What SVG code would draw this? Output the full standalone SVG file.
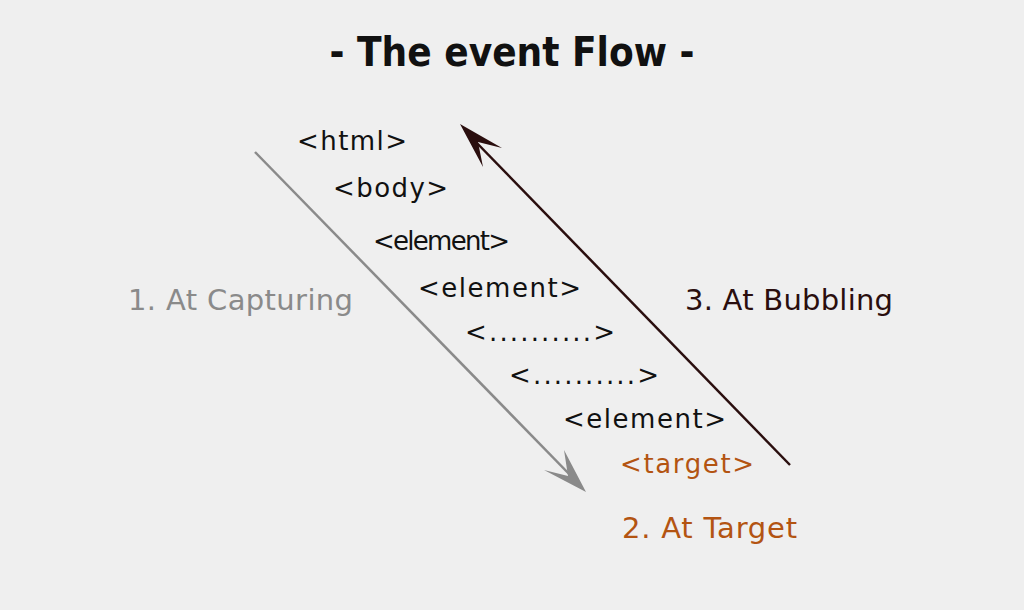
<svg xmlns="http://www.w3.org/2000/svg" width="1024" height="610" viewBox="0 0 1024 610">
<style>
.t{font-family:"DejaVu Sans",sans-serif;font-size:26px;fill:#111}
.l{font-family:"DejaVu Sans",sans-serif;font-size:29px}
.title{font-family:"DejaVu Sans Condensed","DejaVu Sans",sans-serif;font-weight:bold;font-size:40px;fill:#111}
</style>
<rect width="1024" height="610" fill="#efefef"/>
<text class="title" x="512" y="66" text-anchor="middle" textLength="365" lengthAdjust="spacingAndGlyphs">- The event Flow -</text>
<g id="connectors">
<line x1="255" y1="152" x2="574" y2="479" stroke="#8a8a8a" stroke-width="2.5"/>
<polygon points="586,492 544,470 568,476 564,450" fill="#8a8a8a"/>
<line x1="790" y1="465" x2="472" y2="138" stroke="#2a0e0e" stroke-width="2.5"/>
<polygon points="460,124 502,148 478,142 483,167" fill="#2a0e0e"/>
</g>
<g id="labels">
<text class="t" x="297" y="150" textLength="110">&lt;html&gt;</text>
<text class="t" x="333" y="197" textLength="115">&lt;body&gt;</text>
<text class="t" x="373" y="250" textLength="137">&lt;element&gt;</text>
<text class="t" x="418" y="297" textLength="163">&lt;element&gt;</text>
<text class="t" x="465" y="341" textLength="150">&lt;..........&gt;</text>
<text class="t" x="509" y="384" textLength="150">&lt;..........&gt;</text>
<text class="t" x="563" y="428" textLength="163">&lt;element&gt;</text>
<text class="t" x="620" y="473" textLength="134" style="fill:#b35412">&lt;target&gt;</text>
<text class="l" x="128" y="310" textLength="225" style="fill:#8a8a8a">1. At Capturing</text>
<text class="l" x="685" y="310" textLength="208" style="fill:#2a0e0e">3. At Bubbling</text>
<text class="l" x="622" y="538" textLength="175" style="fill:#b35412">2. At Target</text>
</g>
</svg>
